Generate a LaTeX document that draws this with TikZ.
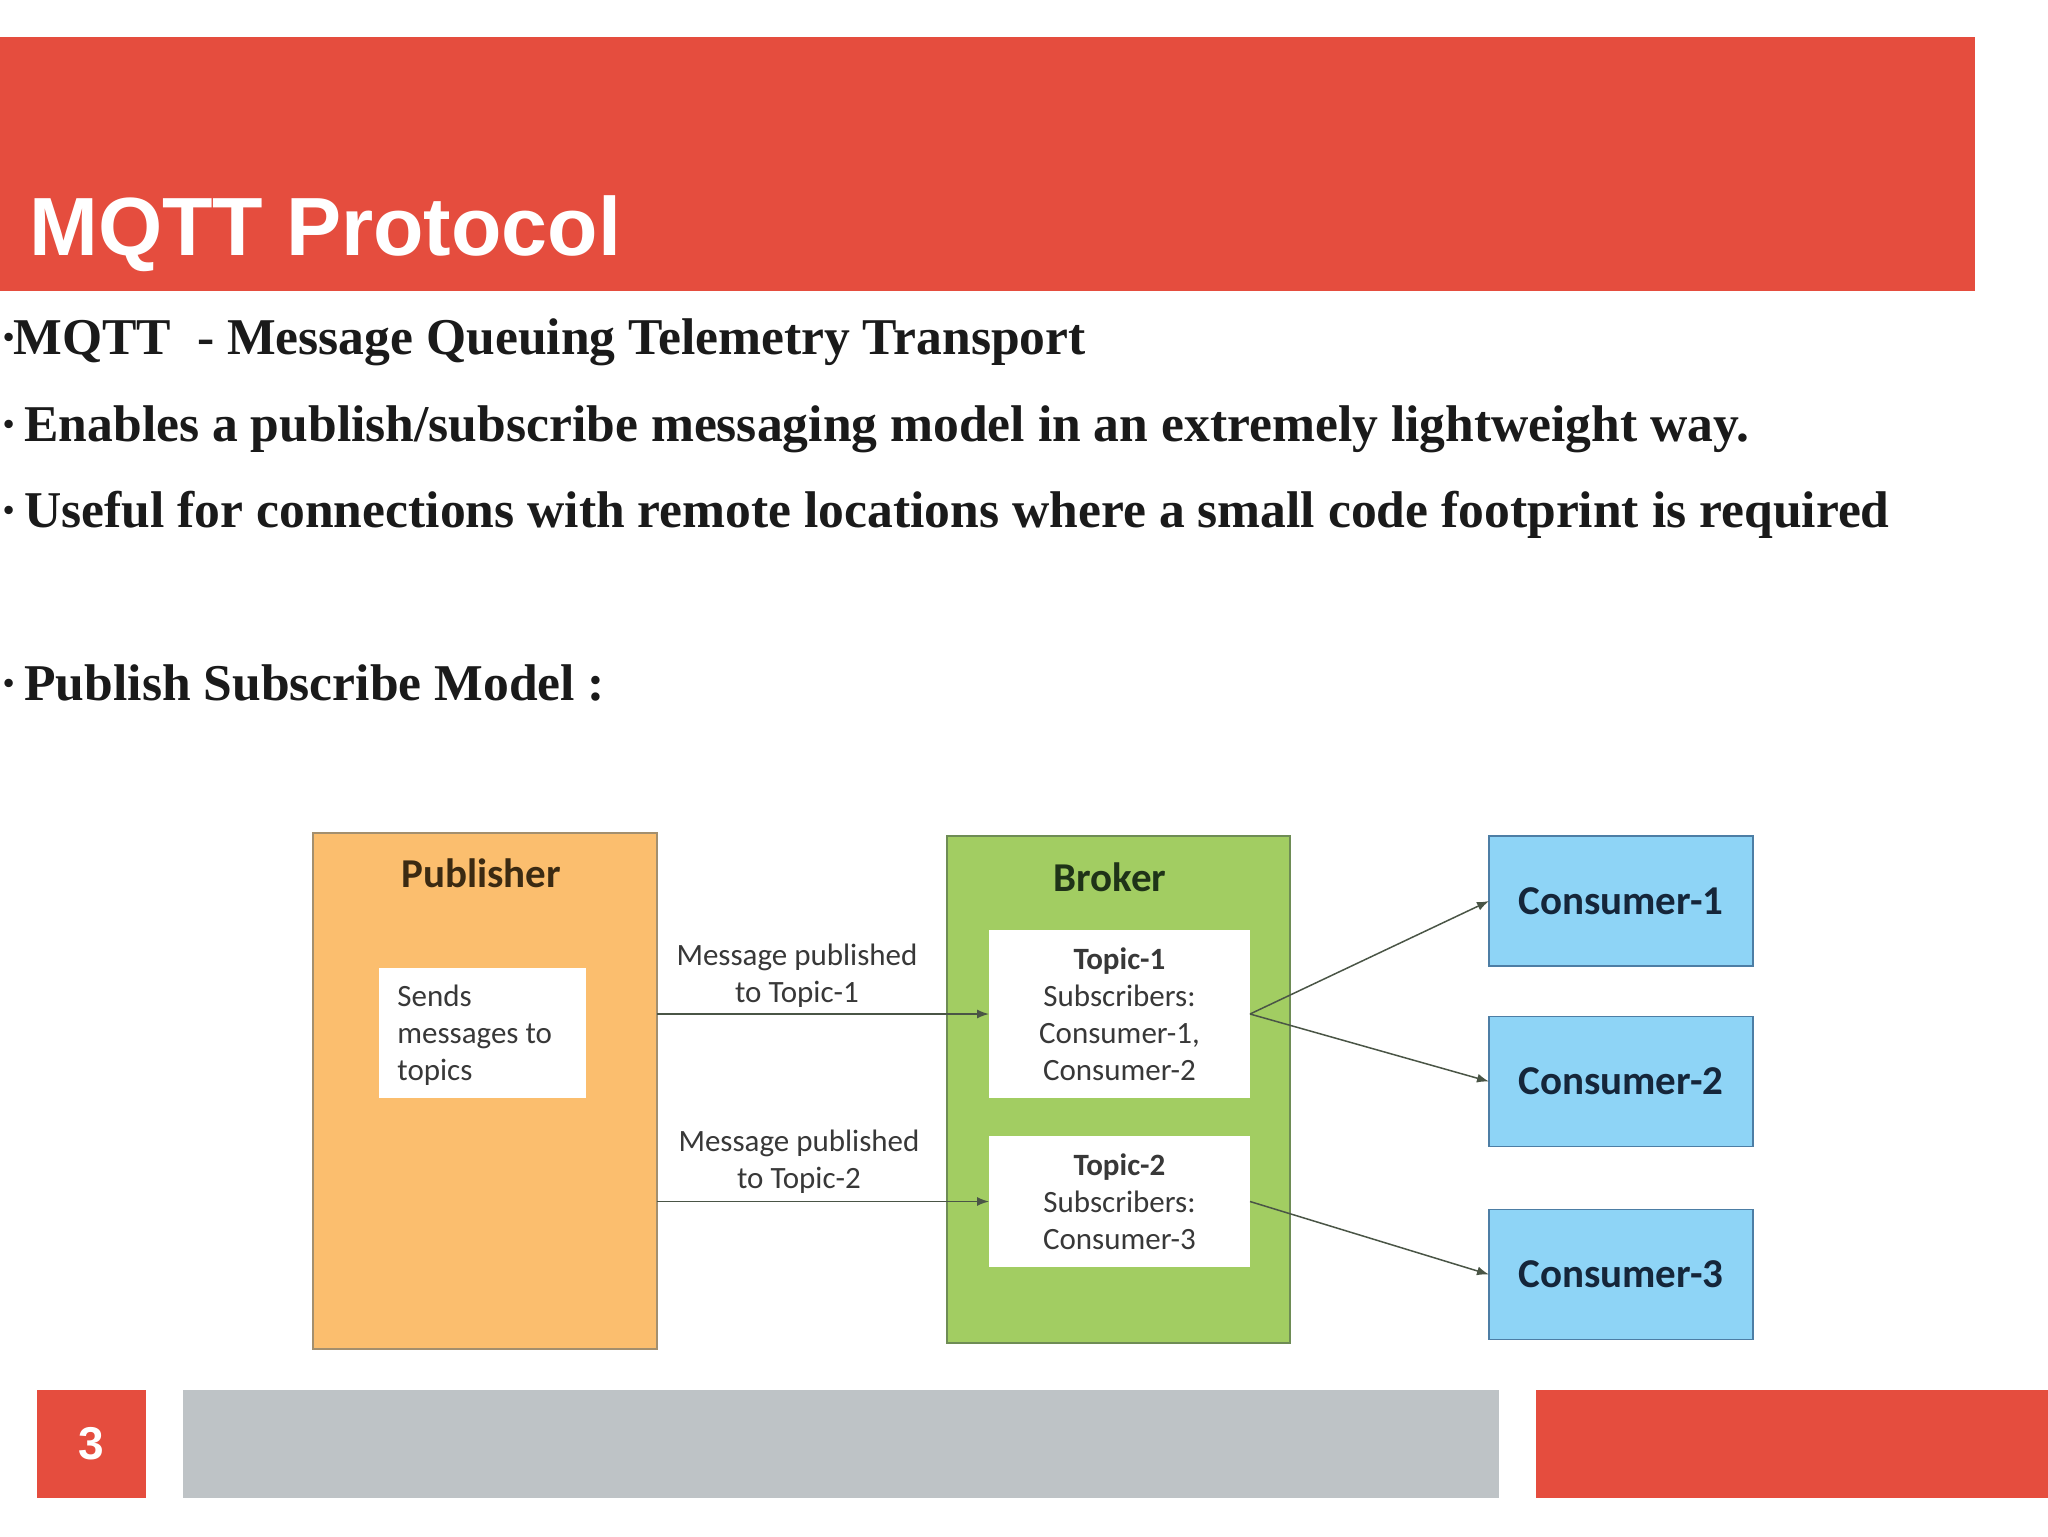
\documentclass[tikz,border=0pt]{standalone}
\usepackage{fontspec}
\setmainfont{Liberation Serif}
\newfontfamily\hdfont{Liberation Sans}
\newfontfamily\calfont{Carlito}
\usetikzlibrary{arrows.meta}
\definecolor{hdred}{HTML}{E54D3E}
\definecolor{footgray}{HTML}{BEC3C6}
\definecolor{pubfill}{HTML}{FBBE6E}
\definecolor{publine}{HTML}{A38F6E}
\definecolor{brokfill}{HTML}{A2CD62}
\definecolor{brokline}{HTML}{6E8C55}
\definecolor{consfill}{HTML}{8ED4F6}
\definecolor{consline}{HTML}{4D7EA5}
\definecolor{arrcol}{HTML}{4A5546}
\definecolor{bodytxt}{HTML}{1A1A1A}
\definecolor{smalltxt}{HTML}{383838}
\definecolor{pubtxt}{HTML}{3B2A12}
\definecolor{broktxt}{HTML}{1F3318}
\definecolor{constxt}{HTML}{15263A}
\newcommand{\bdot}{·\kern-3pt}
\tikzset{
  bullet/.style={anchor=base west, inner sep=0pt, text=bodytxt,
    font=\fontsize{25.8}{30}\selectfont\bfseries},
  bigbox/.style={draw, line width=0.9pt, inner sep=0pt, outer sep=0pt},
  whitebox/.style={fill=white, inner sep=0pt, outer sep=0pt, align=center,
    text=smalltxt, font=\calfont\fontsize{15.5}{18.5}\selectfont},
  consbox/.style={draw=consline, fill=consfill, line width=0.9pt, inner sep=0pt, outer sep=0pt,
    minimum width=132pt, minimum height=65pt, text=constxt,
    font=\calfont\bfseries\fontsize{20.5}{24}\selectfont},
  boxtitle/.style={anchor=base, inner sep=0pt, font=\calfont\bfseries\fontsize{20.5}{24}\selectfont},
  lbl/.style={align=center, inner sep=0pt, text=smalltxt, font=\calfont\fontsize{15.5}{18.5}\selectfont},
  arr/.style={draw=arrcol, line width=0.75pt, -{Latex[length=6pt,width=4.5pt]}},
}
\begin{document}
\begin{tikzpicture}[x=0.5pt,y=-0.5pt]
\useasboundingbox (0,0) rectangle (2048,1536);
% header
\fill[hdred] (0,37) rectangle (1975,291);
\node[anchor=base west, inner sep=0pt, text=white, font=\hdfont\bfseries\fontsize{41.3}{50}\selectfont] (title) at (29,255) {MQTT Protocol};
% bullets
\node[bullet] (b1) at (0,354) {·\kern-2pt MQTT\ \ - Message Queuing Telemetry Transport};
\node[bullet] (b2) at (0,441) {\bdot\ Enables a publish/subscribe messaging model in an extremely lightweight way.};
\node[bullet] (b3) at (0,527) {\bdot\ Useful for connections with remote locations where a small code footprint is required};
\node[bullet] (b4) at (0,700) {\bdot\ Publish Subscribe Model :};
% publisher
\node[bigbox, draw=publine, fill=pubfill, minimum width=172pt, minimum height=258pt] (pub) at (485,1091) {};
\node[boxtitle, text=pubtxt] (pubt) at (481,887) {Publisher};
\node[whitebox, minimum width=103.5pt, minimum height=65pt] (sends) at (482.5,1033) {};
\node[lbl, align=left, anchor=west] (sendst) at (397,1035) {Sends\\messages to\\topics};
% broker
\node[bigbox, draw=brokline, fill=brokfill, minimum width=171.5pt, minimum height=253.5pt] (brok) at (1118.5,1089.5) {};
\node[boxtitle, text=broktxt] (brokt) at (1110,891) {Broker};
\node[whitebox, minimum width=130.5pt, minimum height=84pt] (t1) at (1119.5,1014) {\textbf{Topic-1}\\Subscribers:\\Consumer-1,\\Consumer-2};
\node[whitebox, minimum width=130.5pt, minimum height=65.5pt] (t2) at (1119.5,1201.5) {\textbf{Topic-2}\\Subscribers:\\Consumer-3};
% consumers
\node[consbox] (c1) at (1621,901) {Consumer-1};
\node[consbox] (c2) at (1621,1081.5) {Consumer-2};
\node[consbox] (c3) at (1621,1274.5) {Consumer-3};
% arrows
\draw[arr] (pub.east |- t1.west) -- (t1.west);
\draw[arr] (pub.east |- t2.west) -- (t2.west);
\node[lbl] (l1) at (797,976) {Message published\\to Topic-1};
\node[lbl] (l2) at (799,1162) {Message published\\to Topic-2};
\draw[arr] (t1.east) -- (c1.west);
\draw[arr] (t1.east) -- (c2.west);
\draw[arr] (t2.east) -- (c3.west);
% footer
\fill[hdred] (37,1390) rectangle (146,1498);
\node[inner sep=0pt, text=white, font=\hdfont\bfseries\fontsize{23}{28}\selectfont] (pg) at (91,1444) {3};
\fill[footgray] (183,1390) rectangle (1499,1498);
\fill[hdred] (1536,1390) rectangle (2048,1498);
\end{tikzpicture}
\end{document}
